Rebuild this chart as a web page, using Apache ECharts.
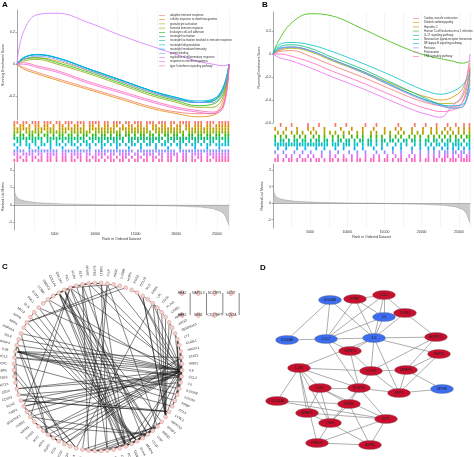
<!DOCTYPE html>
<html>
<head>
<meta charset="utf-8">
<script src="https://cdn.jsdelivr.net/npm/echarts@6.0.0/dist/echarts.min.js"></script>
<style>html,body{margin:0;padding:0;background:#fff}#chart{width:474px;height:457px}</style>
</head>
<body>
<div id="chart"></div>
<script>
// ---------- panel A : GO gene sets ----------
const namesA = ['adaptive immune response', 'cellular response to interferon-gamma', 'granulocyte activation',
  'humoral immune response', 'leukocyte cell-cell adhesion', 'neutrophil activation',
  'neutrophil activation involved in immune response', 'neutrophil degranulation', 'neutrophil mediated immunity',
  'protein binding', 'regulation of inflammatory response', 'response to interferon-gamma',
  'type I interferon signaling pathway'];
const colorsA = ['#F8766D', '#E18A00', '#BE9C00', '#8CAB00', '#24B700', '#00BE70', '#00C1AB',
  '#00BBDA', '#00ACFC', '#8B93FF', '#D575FE', '#F962DD', '#FF65AC'];
const ranks = [0, 800, 2500, 5000, 9000, 13000, 17000, 20000, 22500, 24500, 25800, 26500];
const esA = [
  [0, -0.02, -0.05, -0.09, -0.15, -0.21, -0.27, -0.3, -0.31, -0.31, -0.22, 0],
  [0, -0.03, -0.06, -0.1, -0.16, -0.22, -0.28, -0.31, -0.33, -0.32, -0.25, 0],
  [0, 0.03, 0.04, 0.02, -0.04, -0.11, -0.18, -0.22, -0.24, -0.23, -0.16, 0],
  [0, 0.02, 0.03, 0.0, -0.06, -0.13, -0.2, -0.24, -0.27, -0.27, -0.2, 0],
  [0, 0.03, 0.04, 0.01, -0.05, -0.12, -0.19, -0.23, -0.26, -0.25, -0.18, 0],
  [0, 0.04, 0.06, 0.04, -0.03, -0.1, -0.17, -0.21, -0.24, -0.23, -0.15, 0],
  [0, 0.04, 0.06, 0.04, -0.03, -0.1, -0.17, -0.22, -0.24, -0.23, -0.14, 0],
  [0, 0.04, 0.06, 0.04, -0.03, -0.1, -0.17, -0.21, -0.23, -0.22, -0.14, 0],
  [0, 0.04, 0.06, 0.04, -0.03, -0.1, -0.17, -0.21, -0.24, -0.22, -0.15, 0],
  [0, 0.03, 0.05, 0.03, -0.04, -0.11, -0.18, -0.22, -0.24, -0.24, -0.16, 0],
  [0, 0.2, 0.31, 0.32, 0.26, 0.18, 0.11, 0.06, 0.02, 0.0, -0.01, 0],
  [0, 0.0, -0.02, -0.05, -0.12, -0.18, -0.24, -0.28, -0.3, -0.31, -0.27, 0],
  [0, 0.01, -0.01, -0.04, -0.11, -0.17, -0.23, -0.27, -0.29, -0.3, -0.26, 0]
];
const hitsA = [
  '110110111011101101110111011110110111011011101110111011011110111011101111',
  '101101011011010110101101011010110110101101101011011010110110111011011111',
  '111111011111110111111111011111111101111111111011111111110111111111111111',
  '111011111101111111011111110111111111011111111101111111111011111111111111',
  '101101101011010110110101101101101011011010110110101101101011011011011011',
  '111111111101111111111111011111111111101111111111110111111111111111111111',
  '011010110101101010110101101011010110101101010110101101011010110101101011',
  '101011010110101101011010110101101011010110101101011010110101101011011111',
  '010001001000100010000100010001000010001000100001000100010000100010001000',
  '111101111111111011111111110111111111111101111111111111011111111111111111',
  '110111101101111011011110110111101101111011011110110111101101111011111111',
  '011010110101101011010110101101011010110101101011010110101101011010111111',
  '110110101101101011011010110110101101101011011010110110101101101011011111'
];

// ---------- panel B : KEGG pathways ----------
const namesB = ['Cardiac muscle contraction', 'Dilated cardiomyopathy', 'Hepatitis C',
  'Human T-cell leukemia virus 1 infection', 'IL-17 signaling pathway',
  'Neuroactive ligand-receptor interaction', 'NF-kappa B signaling pathway', 'Pertussis',
  'Proteasome', 'TNF signaling pathway'];
const colorsB = ['#F8766D', '#D89000', '#A3A500', '#39B600', '#00BF7D', '#00BFC4', '#00B0F6',
  '#9590FF', '#E76BF3', '#FF62BC'];
const ranksB = [0, 800, 2500, 5000, 8000, 12000, 16000, 19000, 21000, 22500, 24000, 25500, 26500];
const esB = [
  [0, 0.02, 0.03, -0.02, -0.1, -0.2, -0.31, -0.39, -0.43, -0.45, -0.46, -0.42, -0.22],
  [0, 0.04, 0.06, 0.03, -0.05, -0.15, -0.26, -0.34, -0.38, -0.4, -0.38, -0.3, -0.08],
  [0, 0.03, 0.05, 0.02, -0.06, -0.16, -0.28, -0.36, -0.41, -0.43, -0.43, -0.37, -0.12],
  [0, 0.12, 0.27, 0.35, 0.33, 0.22, 0.1, 0.02, -0.02, -0.04, -0.06, -0.08, -0.06],
  [0, 0.06, 0.08, 0.05, -0.03, -0.13, -0.25, -0.34, -0.4, -0.44, -0.47, -0.46, -0.15],
  [0, 0.08, 0.1, 0.08, 0.02, -0.08, -0.19, -0.28, -0.33, -0.35, -0.33, -0.27, -0.18],
  [0, 0.05, 0.06, 0.03, -0.05, -0.15, -0.27, -0.36, -0.41, -0.44, -0.45, -0.44, -0.3],
  [0, 0.04, 0.06, 0.03, -0.05, -0.16, -0.28, -0.37, -0.42, -0.45, -0.47, -0.46, -0.25],
  [0, -0.03, -0.06, -0.12, -0.2, -0.3, -0.41, -0.49, -0.53, -0.55, -0.46, -0.35, 0.0],
  [0, 0.0, -0.02, -0.07, -0.15, -0.25, -0.36, -0.44, -0.48, -0.5, -0.49, -0.42, -0.12]
];
const hitsB = [
  '001000100000100010000010001000000100010000000100000100010001000100100101',
  '100010001000101000100000100010001000100010001010001000100101001010010101',
  '010100101010010100101010010100101001010010100101001010100101010101010101',
  '101010010101001010100101010010101001010100101010010101001010101010101011',
  '101101011011010110110101101101011011010110110101101101011011010110110101',
  '111111111111111111110111011101101011010101001010100101010101101101111011',
  '010010001001000100100010010001001000100100010010001001001010010101010101',
  '100100010010010001001001000100100100010010010010001001001010101101101101',
  '010010100100101001001010010010100100101001001010010101001010101101011011',
  '110101101011010110101101011010110101101011010110101101011011011011101111'
];

// ranked list metric (shared dataset)
const rankX = [0, 100, 300, 700, 1500, 3000, 6000, 10000, 13000, 16000, 20000, 23000, 24500, 25500, 26000, 26500];
const rankY = [1.1, 0.7, 0.45, 0.3, 0.2, 0.11, 0.05, 0.01, 0, -0.03, -0.07, -0.13, -0.22, -0.38, -0.6, -1.2];
const esTicks = [-0.2, 0, 0.2];
const esTicksB = [-0.6, -0.4, -0.2, 0, 0.2];
const metricTicks = [-1, 0, 1, 2];

// ---------- panel C : PPI circle ----------
const genesC = ['IL6', 'CCL2', 'C3', 'S100A8', 'S100A9', 'PPBP', 'CCL5', 'LYVE1', 'ADIPOQ', 'SFRP4',
  'FMOD', 'LUM', 'CTGF', 'MFAP4', 'MYH6', 'DCN', 'POSTN', 'COL14A1', 'FRZB', 'MFAP5',
  'OGN', 'DPT', 'PRELP', 'ASPN', 'PDK4', 'PLA2G2A', 'SOCS3', 'FOS', 'EGR1', 'ATF3',
  'MYC', 'CYR61', 'NR4A1', 'THBS1', 'SERPINE1', 'TIMP1', 'FCN3', 'CD163', 'CD14', 'MT1X',
  'ZBTB16', 'FKBP5', 'CX3CR1', 'CXCL2', 'IL1B', 'TNFAIP3', 'SELE', 'HSPA1A', 'NPPA', 'NPPB',
  'MYL4', 'SLN', 'FHL1', 'ECM2', 'COMP', 'SMOC2', 'COL1A1', 'COL3A1', 'FN1', 'VCAN',
  'ELN', 'SPARC', 'TGFB3', 'LTBP2', 'CILP', 'HAS2', 'CORIN', 'HOPX', 'RGS1', 'CCL18',
  'SCD', 'FASN', 'LPL', 'CD36', 'PLIN1', 'CIDEC', 'RBP4', 'APOD', 'SERPINA3', 'LYZ',
  'CHI3L1', 'HMOX1', 'STAT3', 'MNS1'];
const edgesC = [
  [0,1],[0,2],[0,5],[0,8],[0,12],[0,16],[0,26],[0,27],[0,33],[0,34],[0,35],[0,38],[0,43],[0,44],[0,45],[0,46],
  [0,58],[0,62],[0,69],[0,72],[0,80],[0,81],[0,82],[0,30],[0,28],[0,29],[0,36],[0,52],
  [1,2],[1,6],[1,44],[1,43],[1,38],[1,35],[1,69],[1,80],[1,54],[1,61],[2,3],[2,4],[2,37],[2,78],
  [3,4],[3,79],[3,44],[4,44],[4,79],[5,6],[5,44],[6,42],[7,37],[7,36],[8,72],[8,73],[8,74],[8,75],
  [8,76],[8,70],[9,18],[9,15],[9,11],[9,56],[10,11],[10,15],[10,22],[10,23],[10,64],[11,15],
  [11,16],[11,20],[11,21],[11,56],[11,57],[12,16],[12,31],[12,33],[12,56],[12,58],[13,19],[13,60],
  [14,48],[14,49],[14,50],[14,51],[15,20],[15,21],[15,57],[15,59],[16,56],[16,57],[16,58],[16,61],
  [16,54],[16,63],[17,56],[17,57],[19,60],[19,63],[20,22],[20,23],[21,64],[22,60],[23,64],[24,40],
  [24,41],[24,72],[25,35],[26,82],[26,45],[27,28],[27,29],[27,32],[27,30],[28,29],[28,32],[29,45],
  [30,82],[31,33],[33,34],[33,58],[34,35],[35,58],[37,38],[38,44],[43,44],[44,45],[46,44],[47,29],
  [48,49],[49,66],[50,51],[52,14],[53,56],[54,57],[55,59],[56,57],[56,58],[57,59],[58,61],[59,61],
  [60,63],[61,62],[62,63],[65,58],[67,49],[68,69],[70,71],[71,73],[72,73],[73,74],[74,75],[76,77],
  [78,80],[79,80],[81,82],[82,44],[83,14],[40,41],[42,38],[36,7],[65,0],[77,11],[70,8],[47,0]
];
const pairTop = ['HBA2', 'NAP1L3', 'NCCRP1', 'SCN7'];
const pairBottom = ['HBB2', 'SEB1', 'C1QTNF7', 'SCN7A'];

// ---------- panel D : hub network ----------
const nodesD = ['S100A9', 'PPBP', 'CCL5', 'C3', 'LYVE1', 'S100A8', 'CCL2', 'IL6', 'ADIPOQ', 'SFRP4',
  'FMOD', 'LUM', 'CTGF', 'MFAP4', 'DCN', 'POSTN', 'SPP1', 'MYH6', 'COL14A1', 'FRZB',
  'MFAP5', 'OGN', 'DPT', 'PRELP', 'ASPN'];
const nodeXD = [330, 355, 384, 384, 405, 287, 326, 374, 436, 350, 439, 299, 371, 406, 320, 359, 399, 442, 277, 349, 307, 330, 386, 317, 370];
const nodeYD = [300, 299, 295, 317, 313, 340, 339, 338, 337, 351, 354, 368, 371, 370, 388, 388, 393, 389, 401, 404, 413, 423, 419, 443, 445];
const blueD = ['S100A9', 'C3', 'S100A8', 'CCL2', 'IL6', 'MYH6'];
const edgesD = [
  ['S100A9','S100A8'],['S100A9','IL6'],['S100A9','CCL2'],['PPBP','C3'],['PPBP','IL6'],['PPBP','CCL2'],
  ['CCL5','C3'],['CCL5','IL6'],['CCL5','CCL2'],['CCL5','LYVE1'],['CCL5','PPBP'],['C3','IL6'],['C3','CCL2'],
  ['C3','LYVE1'],['LYVE1','ADIPOQ'],['LYVE1','IL6'],['S100A8','CCL2'],['CCL2','IL6'],['CCL2','SFRP4'],
  ['CCL2','POSTN'],['IL6','ADIPOQ'],['IL6','CTGF'],['IL6','FMOD'],['IL6','SPP1'],['IL6','SFRP4'],['IL6','LUM'],
  ['ADIPOQ','CTGF'],['ADIPOQ','MFAP4'],['SFRP4','CTGF'],['SFRP4','POSTN'],['FMOD','MFAP4'],['FMOD','SPP1'],
  ['LUM','CTGF'],['LUM','DCN'],['LUM','POSTN'],['LUM','COL14A1'],['LUM','MFAP5'],['LUM','OGN'],['LUM','PRELP'],
  ['CTGF','POSTN'],['CTGF','MFAP4'],['CTGF','SPP1'],['MFAP4','SPP1'],['SPP1','MYH6'],['MFAP4','MYH6'],
  ['DCN','POSTN'],['DCN','FRZB'],['DCN','OGN'],['DCN','MFAP5'],['DCN','DPT'],['POSTN','SPP1'],['POSTN','FRZB'],
  ['POSTN','DPT'],['POSTN','OGN'],['COL14A1','FRZB'],['COL14A1','DPT'],['FRZB','OGN'],['FRZB','ASPN'],
  ['MFAP5','OGN'],['MFAP5','DPT'],['OGN','PRELP'],['OGN','ASPN'],['DPT','ASPN'],['DPT','PRELP'],['PRELP','ASPN']
];

const fs = 3.5;
const grids = [
  { left: 12, top: 10, width: 217, height: 110 },
  { left: 12, top: 121, width: 217, height: 41 },
  { left: 12, top: 163, width: 217, height: 67 },
  { left: 273, top: 12, width: 197, height: 111 },
  { left: 273, top: 123, width: 197, height: 39 },
  { left: 273, top: 164, width: 197, height: 64 }
];
const xAx = (gi, showLabel) => ({
  type: 'value', gridIndex: gi, min: 0, max: 26500, interval: 2500,
  axisLine: { show: showLabel, lineStyle: { color: '#555', width: 0.5 } },
  axisTick: { show: false },
  axisLabel: { show: showLabel, fontSize: fs, color: '#333', margin: 2,
    formatter: v => (v % 5000 === 0 && v > 0 ? v : '') },
  splitLine: { show: gi !== 1 && gi !== 4, lineStyle: { color: '#ececec', width: 0.5 } },
  name: showLabel ? 'Rank in Ordered Dataset' : '', nameLocation: 'middle', nameGap: 7,
  nameTextStyle: { fontSize: fs, color: '#333' }
});
const yAx = (gi, min, max, ticks, name) => ({
  type: 'value', gridIndex: gi, min, max,
  axisLine: { show: true, lineStyle: { color: '#555', width: 0.5 } },
  axisTick: { show: true, length: 1.5, customValues: ticks, lineStyle: { width: 0.5 } },
  axisLabel: { fontSize: fs, color: '#333', margin: 2, customValues: ticks },
  splitLine: { show: false },
  name, nameLocation: 'middle', nameGap: 7, nameTextStyle: { fontSize: fs, color: '#333' }
});
const yHits = (gi, n) => ({ type: 'value', gridIndex: gi, min: 0, max: n, inverse: true, show: false });

const series = [];
function esSeries(names, colors, xs, ys, axis) {
  names.forEach((n, i) => series.push({
    name: n, type: 'line', xAxisIndex: axis, yAxisIndex: axis, smooth: 0.4, showSymbol: false,
    lineStyle: { width: 0.8, color: colors[i] }, itemStyle: { color: colors[i] },
    data: xs.map((x, j) => [x, ys[i][j]]), z: 3
  }));
}
esSeries(namesA, colorsA, ranks, esA, 0);
esSeries(namesB, colorsB, ranksB, esB, 3);

function hitSeries(rows, colors, axis) {
  const data = [];
  rows.forEach((s, r) => {
    const bw = 26500 / s.length;
    for (let i = 0; i < s.length; i++) if (s[i] === '1') data.push([(i + 0.5) * bw, r]);
  });
  series.push({
    type: 'custom', xAxisIndex: axis, yAxisIndex: axis, data, silent: true,
    renderItem: (params, api) => {
      const r = api.value(1);
      const p0 = api.coord([api.value(0), r]);
      const p1 = api.coord([api.value(0), r + 1]);
      return { type: 'rect', shape: { x: p0[0], y: p0[1], width: 1.7, height: p1[1] - p0[1] },
        style: { fill: colors[r] } };
    }
  });
}
hitSeries(hitsA, colorsA, 1);
hitSeries(hitsB, colorsB, 4);

[2, 5].forEach(ax => series.push({
  type: 'line', xAxisIndex: ax, yAxisIndex: ax, showSymbol: false, silent: true,
  lineStyle: { width: 0.4, color: '#888' }, areaStyle: { color: '#b5b5b5' },
  data: rankX.map((x, i) => [x, rankY[i]])
}));

const pink = { color: '#f6d0cc', borderColor: '#c98a84', borderWidth: 0.4 };
series.push({
  type: 'graph', layout: 'circular', circular: { rotateLabel: true },
  left: 14, top: 283, width: 168, height: 168,
  symbolSize: 4, itemStyle: pink,
  label: { show: true, position: 'right', fontSize: 3.3, color: '#333' },
  lineStyle: { color: '#1a1a1a', width: 0.6, opacity: 0.9 },
  data: genesC.map(g => ({ name: g })),
  links: edgesC.map(e => ({ source: genesC[e[0]], target: genesC[e[1]] }))
});
series.push({
  type: 'graph', layout: 'none', left: 182, top: 293, width: 49, height: 22,
  symbolSize: 4, itemStyle: pink,
  label: { show: true, position: 'inside', fontSize: 3.3, color: '#333' },
  lineStyle: { color: '#333', width: 0.6, opacity: 1 },
  data: pairTop.map((g, i) => ({ name: g, x: i, y: 0 }))
    .concat(pairBottom.map((g, i) => ({ name: g, x: i, y: 1 }))),
  links: pairTop.map((g, i) => ({ source: g, target: pairBottom[i] }))
});
series.push({
  type: 'graph', layout: 'none', left: 277, top: 295, width: 165, height: 150,
  symbolSize: [23, 9],
  label: { show: true, position: 'inside', fontSize: 3.5, color: '#222' },
  lineStyle: { color: '#8a8a8a', width: 0.7, opacity: 1 },
  data: nodesD.map((g, i) => ({
    name: g, x: nodeXD[i], y: nodeYD[i],
    itemStyle: { color: blueD.includes(g) ? '#3c6df0' : '#c8102e', borderColor: '#666', borderWidth: 0.3 }
  })),
  links: edgesD.map(e => ({ source: e[0], target: e[1] }))
});

const legendStyle = { orient: 'vertical', itemWidth: 6, itemHeight: 3, itemGap: 1.2,
  icon: 'path://M0,45 L100,45 L100,55 L0,55 Z', textStyle: { fontSize: 2.8, color: '#333' } };

const chart = echarts.init(document.getElementById('chart'), null, { renderer: 'canvas' });
chart.setOption({
  animation: false,
  grid: grids,
  xAxis: [xAx(0, false), xAx(1, false), xAx(2, true), xAx(3, false), xAx(4, false), xAx(5, true)],
  yAxis: [
    yAx(0, -0.35, 0.34, esTicks, 'Running Enrichment Score'),
    yHits(1, hitsA.length),
    yAx(2, -1.45, 2.4, metricTicks, 'Ranked List Metric'),
    yAx(3, -0.6, 0.365, esTicksB, 'Running Enrichment Score'),
    yHits(4, hitsB.length),
    yAx(5, -1.5, 2.36, metricTicks, 'Ranked List Metric')
  ],
  legend: [
    Object.assign({ left: 154, top: 9, data: namesA }, legendStyle),
    Object.assign({ left: 408, top: 12, data: namesB }, legendStyle)
  ],
  graphic: [
    ['A', 2, 1], ['B', 262, 1], ['C', 2, 263], ['D', 260, 264]
  ].map(t => ({ type: 'text', left: t[1], top: t[2],
    style: { text: t[0], fontSize: 8, fontWeight: 'bold', fill: '#000', fontFamily: 'Liberation Sans' } })),
  series
});
</script>
</body>
</html>
